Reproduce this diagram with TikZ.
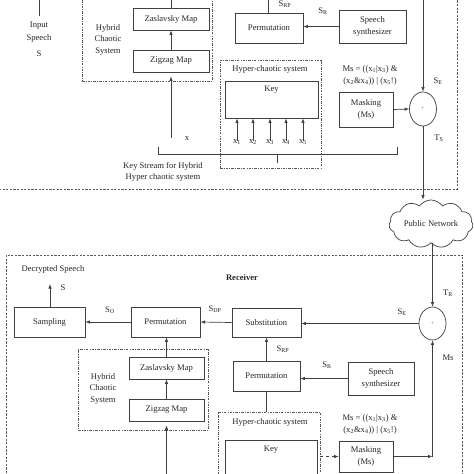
\documentclass[tikz,border=0pt]{standalone}
\usepackage{fontspec}
\setmainfont{Liberation Serif}
\usetikzlibrary{arrows.meta,shapes.geometric,shapes.symbols}
\begin{document}
\begin{tikzpicture}[x=1pt,y=-1pt,
  font=\fontsize{8.6}{11.5}\selectfont,
  ln/.style={draw=black!75, line width=0.7pt},
  arr/.style={ln, -{Latex[length=4.5pt,width=3.4pt]}},
  blk/.style={draw=black!75, line width=0.7pt, rectangle, inner sep=0pt, align=center, text=black!85},
  dd/.style={draw=black!65, line width=0.6pt, dash pattern=on 2.5pt off 1.2pt on 0.8pt off 1.2pt},
  outer/.style={draw=black!65, line width=0.6pt, dash pattern=on 2.2pt off 1.4pt},
  lbl/.style={inner sep=0.5pt, align=center, text=black!85},
  sum/.style={ellipse, draw=black!75, line width=0.7pt, minimum width=27pt, minimum height=34pt, inner sep=0pt, text=black!45, font=\fontsize{6.5}{7}\selectfont}]
\useasboundingbox (0,0) rectangle (474,474);
\clip (0,0) rectangle (474,474);
\fill[white] (0,0) rectangle (474,474);

% ================= Sender =================
\draw[outer] (-5,-5) rectangle (457,189);

\node[dd, rectangle, minimum width=130pt, minimum height=90pt, inner sep=0pt] (hcs1) at (147,36) {};
\node[dd, rectangle, minimum width=101pt, minimum height=108pt, inner sep=0pt] (hyp1) at (270.5,114) {};

\node[lbl] (in1) at (39,26) {Input};
\node[lbl] (in2) at (39,38) {Speech};
\node[lbl] (in3) at (39,54) {S};
\coordinate (intop) at (39,-5);
\coordinate (inbot) at (39,16);
\draw[ln] (inbot) -- (intop);

\node[lbl] (hcst1) at (108,39.5) {Hybrid\\Chaotic\\System};
\node[blk, minimum width=76pt, minimum height=22pt] (zas1) at (171,19) {Zaslavsky Map};
\node[blk, minimum width=76pt, minimum height=22pt] (zig1) at (171,61) {Zigzag Map};
\coordinate (zastop) at (171,-5);
\draw[ln] (zas1.north) -- (zastop);
\draw[arr] (zig1.north) -- (zas1.south);
\coordinate (xs) at (171,138);
\draw[arr] (xs) -- ([yshift=-4pt]zig1.south);
\node[lbl] (xl) at (187,139) {x};

\node[blk, minimum width=68pt, minimum height=30pt] (perm1) at (269,28) {Permutation};
\node[blk, minimum width=67pt, minimum height=33pt] (synth1) at (372.5,26.5) {Speech\\synthesizer};
\draw[arr] (synth1.west) -- (synth1.west -| perm1.east);
\node[lbl] (sr1) at (323,11) {S\textsubscript{R}};
\coordinate (permtop) at (268,-5);
\draw[ln] (perm1.north -| permtop) -- (permtop);
\node[lbl] (srp1) at (285,4) {S\textsubscript{RP}};

\node[lbl] (hypt1) at (270,69) {Hyper-chaotic system};
\node[blk, minimum width=93pt, minimum height=37pt] (key1) at (271.5,99.5) {};
\node[lbl] (keyt1) at (271.5,90) {Key};
\foreach \i/\xx in {1/237,2/253,3/270,4/286,5/303}{
  \node[lbl] (xa\i) at (\xx,142) {x\textsubscript{\i}};
  \draw[arr] ([yshift=-2pt]xa\i.north) -- (xa\i |- key1.south);
}

\draw[ln] (158,147) -- (158,154) -- (397,154) -- (397,147);
\draw[ln] (277,154) -- (277,163);
\node[lbl] (ks) at (163,172) {Key Stream for Hybrid\\Hyper chaotic system};

\node[lbl] (ms1) at (370,75.5) {Ms = ((x\textsubscript{1}|x\textsubscript{3}) \&\\(x\textsubscript{2}\&x\textsubscript{4})) | (x\textsubscript{5}!)};
\node[blk, minimum width=54pt, minimum height=35pt] (mask1) at (366,109.5) {Masking\\(Ms)};
\node[sum] (sum1) at (423,109) {+};
\draw[arr] (mask1.east) -- (sum1.west);
\coordinate (setop) at (423,-5);
\draw[arr] (setop) -- (sum1.north);
\node[lbl] (se1) at (438,81) {S\textsubscript{E}};
\node[lbl] (ts1) at (439,138) {T\textsubscript{S}};

\node[cloud, cloud puffs=11, cloud puff arc=110, aspect=2, draw=black!75, line width=0.7pt, minimum width=84pt, minimum height=45pt, inner sep=0pt, text=black!85] (cloud) at (431,224) {Public Network};
\draw[arr] (sum1.south) -- (sum1.south |- cloud.north);

% ================= Receiver =================
\draw[outer] (6.5,255) rectangle (462.5,490);
\node[lbl] (dec) at (53,269) {Decrypted Speech};
\node[lbl, font=\fontsize{8.6}{11.5}\selectfont\bfseries] (recv) at (242,278) {Receiver};

\node[dd, rectangle, minimum width=130pt, minimum height=81pt, inner sep=0pt] (hcs2) at (143,389.5) {};
\node[dd, rectangle, minimum width=102pt, minimum height=78pt, inner sep=0pt] (hyp2) at (269,451) {};

\node[blk, minimum width=71pt, minimum height=30pt] (samp) at (49.5,322) {Sampling};
\node[blk, minimum width=69pt, minimum height=30pt] (perm2) at (165.5,322) {Permutation};
\node[blk, minimum width=69pt, minimum height=29pt] (subst) at (266.5,322.5) {Substitution};
\node[sum, minimum height=33pt] (sum2) at (432.5,323.5) {+};

\draw[arr] (cloud.south -| sum2.north) -- (sum2.north);
\node[lbl] (tr) at (448,293) {T\textsubscript{R}};
\draw[arr] (sum2.west) -- (sum2.west -| subst.east);
\node[lbl] (se2) at (402,312) {S\textsubscript{E}};
\draw[arr] (subst.west) -- (perm2.east);
\node[lbl] (sdp) at (215,309) {S\textsubscript{DP}};
\draw[arr] (perm2.west) -- (samp.east);
\node[lbl] (so) at (110,310) {S\textsubscript{O}};
\coordinate (sout) at (50,284);
\draw[arr] (samp.north -| sout) -- (sout);
\node[lbl] (sl) at (63,288) {S};

\node[lbl] (hcst2) at (103,388.5) {Hybrid\\Chaotic\\System};
\node[blk, minimum width=75pt, minimum height=22pt] (zas2) at (166.5,368) {Zaslavsky Map};
\node[blk, minimum width=75pt, minimum height=22pt] (zig2) at (166.5,410) {Zigzag Map};
\draw[arr] (zas2.north) -- (zas2.north |- perm2.south);
\draw[arr] (zig2.north) -- (zas2.south);
\coordinate (xs2) at (166.5,490);
\draw[arr] (xs2) -- ([yshift=-4pt]zig2.south);

\node[blk, minimum width=67pt, minimum height=30pt] (perm3) at (266.5,376) {Permutation};
\node[blk, minimum width=66pt, minimum height=33pt] (synth2) at (381,378.5) {Speech\\synthesizer};
\draw[arr] (perm3.north) -- (perm3.north |- subst.south);
\node[lbl] (srp2) at (283,349) {S\textsubscript{RP}};
\draw[arr] (synth2.west) -- (synth2.west -| perm3.east);
\node[lbl] (sr2) at (327,365) {S\textsubscript{R}};
\draw[ln] (perm3.south) -- (perm3.south |- hyp2.north);

\node[lbl] (hypt2) at (270,422) {Hyper-chaotic system};
\node[blk, minimum width=92pt, minimum height=37pt] (key2) at (271,458.5) {};
\node[lbl] (keyt2) at (271,450) {Key};

\node[lbl] (ms2) at (370,424.5) {Ms = ((x\textsubscript{1}|x\textsubscript{3}) \&\\(x\textsubscript{2}\&x\textsubscript{4})) | (x\textsubscript{5}!)};
\node[blk, minimum width=54pt, minimum height=31pt] (mask2) at (366,456.5) {Masking\\(Ms)};
\draw[ln, dashed, -{Latex[length=4.5pt,width=3.4pt]}] (hyp2.east |- mask2.west) -- (mask2.west);
\coordinate (corner) at (432.5,456.5);
\draw[arr] (mask2.east) -- (corner);
\draw[arr] (corner) -- (sum2.south);
\node[lbl] (msl) at (448,358) {Ms};
\end{tikzpicture}
\end{document}
